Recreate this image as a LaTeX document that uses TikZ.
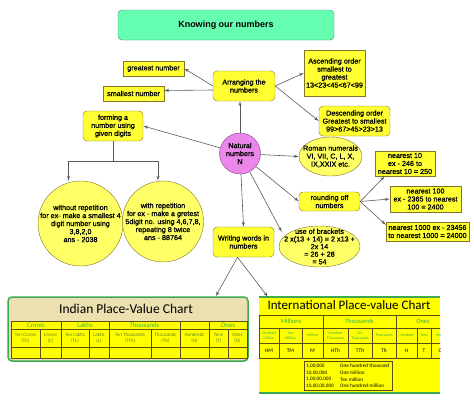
\documentclass[tikz,border=0pt]{standalone}
\usepackage{fontspec}
\setmainfont{Liberation Sans}
\newfontfamily\nodefont[FakeBold=1]{Liberation Sans}
\newfontfamily\chartfont{Carlito}
\usepackage{tikz}
\usetikzlibrary{shapes.geometric, arrows, positioning, calc}

\definecolor{boxfill}{RGB}{255,255,51}
\definecolor{ovalfill}{RGB}{255,255,102}
\definecolor{boxline}{RGB}{128,118,40}
\definecolor{titlefill}{RGB}{102,255,178}
\definecolor{titleline}{RGB}{80,130,100}
\definecolor{natfill}{RGB}{235,135,235}
\definecolor{natline}{RGB}{140,60,140}
\definecolor{tanfill}{RGB}{236,224,176}
\definecolor{chartgreen}{RGB}{60,170,80}
\definecolor{headgreen}{RGB}{60,175,70}
\definecolor{subgreen}{RGB}{100,130,40}
\definecolor{cellfill}{RGB}{255,255,0}
\definecolor{cellline}{RGB}{90,80,20}
\definecolor{arrowgray}{RGB}{90,90,90}

\begin{document}
\begin{tikzpicture}[
    x=1pt, y=-1pt,
    txt/.style={font=\nodefont\fontsize{7.2}{8}\selectfont, align=center, inner sep=0pt},
    block/.style={rectangle, draw=boxline, fill=boxfill, txt, inner sep=1pt},
    rblock/.style={block, rounded corners=4pt},
    oval/.style={ellipse, draw=boxline, fill=ovalfill, inner sep=0pt},
    bubble/.style={circle, draw=boxline, fill=ovalfill, inner sep=0pt},
    arrow/.style={-latex', draw=arrowgray, line width=0.6pt},
    cell/.style={draw=cellline, line width=0.6pt, fill=cellfill},
    headtxt/.style={font=\chartfont\fontsize{6.8}{8}\selectfont, text=headgreen, inner sep=0pt},
    subtxt/.style={font=\chartfont\fontsize{5}{6}\selectfont, text=subgreen, align=center, inner sep=0pt},
    charttitle/.style={font=\chartfont\fontsize{13.5}{15}\selectfont, inner sep=0pt}
]
    \useasboundingbox (0,0) rectangle (474,415);

    % mind map
    \node [rblock, draw=titleline, fill=titlefill, minimum width=216pt, minimum height=30pt,
           font=\fontsize{9}{11}\selectfont\bfseries] (title) at (226,25) {Knowing our numbers};
    \node [block, minimum width=61pt, minimum height=15pt] (greatest) at (153.5,68.5) {greatest number};
    \node [block, minimum width=61pt, minimum height=15pt] (smallest) at (133.5,93.5) {smallest number};
    \node [rblock, minimum width=62pt, minimum height=30pt] (arrange) at (244,86) {Arranging the\\numbers};
    \node [block, minimum width=61pt, minimum height=46pt] (ascend) at (334.5,73) {Ascending order\\smallest to\\greatest\\13<23<45<67<99};
    \node [rblock, minimum width=71pt, minimum height=30pt] (descend) at (354.5,121) {Descending order\\Greatest to smallest\\99>67>45>23>13};
    \node [bubble, draw=natline, fill=natfill, minimum size=41pt] (natural) at (240,153.5) {};
    \node [txt] (natural-txt) at (natural) {Natural\\numbers\\N};
    \node [oval, minimum width=63pt, minimum height=39pt] (roman) at (330.5,156.5) {};
    \node [txt] (roman-txt) at (roman) {Roman numerals\\VI, VII, C, L, X,\\IX,XXIX etc.};
    \node [block, minimum width=60pt, minimum height=25pt] (near10) at (405,163.5) {nearest 10\\ex - 246 to\\nearest 10 = 250};
    \node [rblock, minimum width=61pt, minimum height=19pt] (rounding) at (329.5,201.5) {rounding off\\numbers};
    \node [block, minimum width=71pt, minimum height=26pt] (near100) at (425.5,199) {nearest 100\\ex - 2365 to nearest\\100 = 2400};
    \node [block, minimum width=83pt, minimum height=19pt] (near1000) at (427.5,231.5) {nearest 1000 ex - 23456\\to nearest 1000 = 24000};
    \node [oval, minimum width=81pt, minimum height=41pt] (brackets) at (319.5,246.5) {};
    \node [txt, font=\nodefont\fontsize{7.2}{7.6}\selectfont] (brackets-txt) at (brackets) {use of brackets\\2 x(13 + 14) = 2 x13 +\\2x 14\\= 26 + 28\\= 54};
    \node [rblock, minimum width=61pt, minimum height=30pt] (writing) at (243.5,242) {Writing words in\\numbers};
    \node [rblock, minimum width=60pt, minimum height=30pt] (forming) at (113,126) {forming a\\number using\\given digits};
    \node [bubble, minimum size=85pt] (norep) at (80.5,223.5) {};
    \node [txt] (norep-txt) at (norep) {without repetition\\for ex- make a smallest 4\\digit number using\\3,8,2,0\\ans - 2038};
    \node [bubble, minimum size=81pt] (withrep) at (163,221.5) {};
    \node [txt] (withrep-txt) at (withrep) {with repetition\\for ex - make a gretest\\5digit no. using 4,6,7,8,\\repeating 8 twice\\ans - 88764};

    % Indian chart
    \node [rectangle, rounded corners=4pt, draw=chartgreen, line width=1.5pt, fill=tanfill,
           minimum width=240pt, minimum height=64pt, inner sep=0pt] (indian) at (128,329) {};
    \node [charttitle] (indian-title) at (126,308.5) {Indian Place-Value Chart};
    \foreach \a/\b/\t [count=\i] in {11/61/Crores, 61/109/Lakhs, 109/180/Thousands, 180/209/{}, 209/247/Ones} {
        \draw [cell] (\a,321) rectangle (\b,329);
        \node [headtxt] (ih\i) at ({(\a+\b)/2},325) {\t};
    }
    \foreach \a/\b/\t [count=\i] in {11/40/{Ten Crores\\(TC)}, 40/61/{Crores\\(C)}, 61/89/{Ten Lakhs\\(TL)},
            89/109/{Lakhs\\(L)}, 109/151/{Ten Thousands\\(TTh)}, 151/180/{Thousands\\(Th)},
            180/209/{Hundreds\\(H)}, 209/228/{Tens\\(T)}, 228/247/{Ones\\(O)}} {
        \draw [cell] (\a,329) rectangle (\b,347);
        \draw [cell] (\a,347) rectangle (\b,358);
        \node [subtxt] (is\i) at ({(\a+\b)/2},338) {\t};
    }

    % International chart
    \node [rectangle, fill=cellfill, minimum width=181pt, minimum height=96pt, inner sep=0pt] (intl) at (349.5,345) {};
    \draw [chartgreen, line width=1.5pt] (intl.north west) -- (intl.north east);
    \draw [chartgreen, line width=1.5pt] (intl.south west) -- (intl.south east);
    \node [charttitle, font=\chartfont\fontsize{13}{15}\selectfont] (intl-title) at (349,305.5) {International Place-value Chart};
    \begin{scope}
        \clip (intl.north west) rectangle (intl.south east);
        \foreach \a/\b/\t [count=\i] in {259/323/Millions, 323/396/Thousands, 396/450/Ones} {
            \draw [cell] (\a,315) rectangle (\b,328);
            \node [headtxt, font=\chartfont\fontsize{6.5}{8}\selectfont] (xh\i) at ({(\a+\b)/2},321.5) {\t};
        }
        \foreach \a/\b/\t/\v [count=\i] in {259/279/{Hundred\\Million}/HM, 279/302/{Ten\\Million}/TM,
                302/323/Million/M, 323/348/{Hundred\\Thousands}/HTh, 348/372/{Ten\\Thousands}/TTh,
                372/396/Thousands/Th, 396/417/Hundred/H, 417/431/Tens/T, 431/450/Ones/O} {
            \draw [cell] (\a,328) rectangle (\b,343);
            \draw [cell] (\a,343) rectangle (\b,358);
            \node [subtxt, text=headgreen, font=\chartfont\fontsize{3.9}{5}\selectfont] (xs\i) at ({(\a+\b)/2},335.5) {\t};
            \node [font=\chartfont\fontsize{5.5}{6}\selectfont, inner sep=0pt] (xv\i) at ({(\a+\b)/2},350.5) {\v};
        }
    \end{scope}
    \node [draw=cellline, line width=0.6pt, minimum width=88pt, minimum height=29pt, inner sep=0pt] (convbox) at (348,375.5) {};
    \foreach \n/\w [count=\i] in {{1,00,000}/{One hundred thousand}, {10,00,000}/{One million},
            {1,00,00,000}/{Ten million}, {10,00,00,000}/{One hundred-million}} {
        \node [font=\chartfont\fontsize{5.2}{6}\selectfont, anchor=west, inner sep=0pt] (conv-n\i) at (306,{359.5+6.6*\i}) {\n};
        \node [font=\chartfont\fontsize{5.2}{6}\selectfont, anchor=west, inner sep=0pt] (conv-w\i) at (340,{359.5+6.6*\i}) {\w};
    }

    % connectors
    \draw [arrow] (arrange.west) -- (greatest.east);
    \draw [arrow] ([yshift=-4pt]arrange.west) -- ([yshift=3pt]smallest.east);
    \draw [arrow] (arrange.east) -- (ascend.west);
    \draw [arrow] (arrange.east) -- (descend.west);
    \draw [arrow] (natural) -- (natural |- arrange.south);
    \draw [arrow] (natural) -- (roman.west);
    \draw [arrow] (natural) -- (forming.east);
    \draw [arrow] (natural) -- (rounding.west);
    \draw [arrow] (natural) -- ([xshift=-9pt]brackets.north west);
    \draw [arrow] (natural) -- (writing.north);
    \draw [arrow] ([xshift=-6pt]writing.south) -- ([xshift=-33pt]indian.north east);
    \draw [arrow] ([xshift=-6pt]writing.south) -- ([xshift=9pt]intl.north west);
    \draw [arrow] (rounding.east) -- ([xshift=10pt]near10.south west);
    \draw [arrow] (rounding.east) -- (near100.west);
    \draw [arrow] (rounding.east) -- ([yshift=-3pt]near1000.north west);
    \draw [arrow] (forming.south) -- ++(0,20) -| ([xshift=-12pt]norep.north);
    \draw [arrow] (forming.south) -- ++(0,20) -| ([xshift=-5pt]withrep.north);
\end{tikzpicture}
\end{document}
